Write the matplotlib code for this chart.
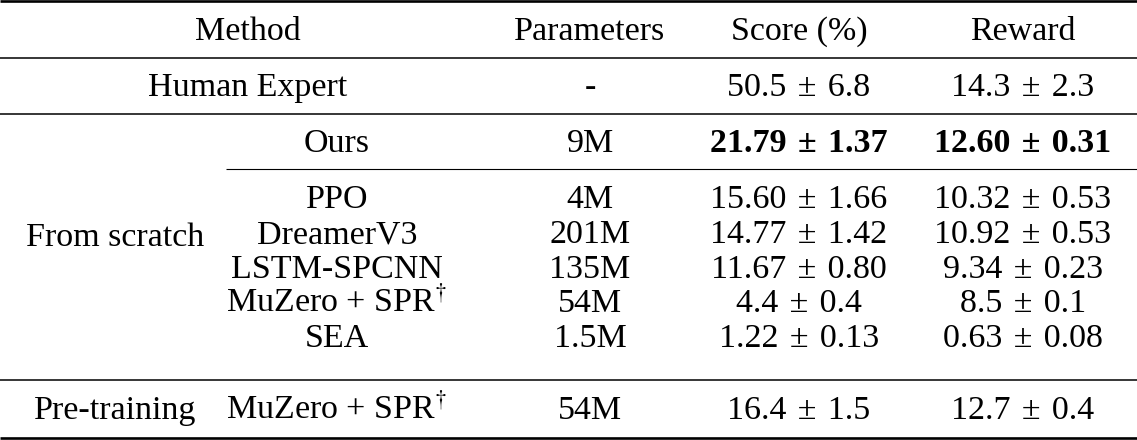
import numpy as np
import matplotlib.pyplot as plt

plt.rcParams['font.family'] = ['Liberation Serif', 'DejaVu Serif']
plt.rcParams['mathtext.fontset'] = 'stix'

## data ##
header = ["Method", "Parameters", "Score (%)", "Reward"]
groups = ["From scratch", "Pre-training"]
methods = ["Human Expert", "Ours", "PPO", "DreamerV3", "LSTM-SPCNN",
           r"MuZero + SPR$^{\dagger}$", "SEA", r"MuZero + SPR$^{\dagger}$"]
params = ["-", "9M", "4M", "201M", "135M", "54M", "1.5M", "54M"]
score_mean = ["50.5", "21.79", "15.60", "14.77", "11.67", "4.4", "1.22", "16.4"]
score_std = ["6.8", "1.37", "1.66", "1.42", "0.80", "0.4", "0.13", "1.5"]
reward_mean = ["14.3", "12.60", "10.32", "10.92", "9.34", "8.5", "0.63", "12.7"]
reward_std = ["2.3", "0.31", "0.53", "0.53", "0.23", "0.1", "0.08", "0.4"]
bold_row = 1

## layout (pixels) ##
W, H = 1137, 440
fs = 24.5
x_method, x_group, x_name = 248, 115, 337
x_cols = [590, 799, 1023]
y_head = 40
y_rows = [96, 152, 208, 243, 278, 312, 347, 419]

fig = plt.figure(figsize=(W/100, H/100), dpi=100)
ax = fig.add_axes([0, 0, 1, 1])
ax.set_xlim(0, W)
ax.set_ylim(H, 0)
ax.axis('off')

# rules
ax.hlines([1.3, 437.6], 0, W, color='black', lw=1.9)
ax.hlines([58.5, 114.5, 380.5], 0, W, color='black', lw=1.1)
ax.hlines(169.5, 226, W, color='black', lw=0.8)

# header
ax.text(x_method, y_head, header[0], ha='center', va='baseline', fontsize=fs)
for x, h in zip(x_cols, header[1:]):
    ax.text(x, y_head, h, ha='center', va='baseline', fontsize=fs)

# group labels
ax.text(x_group, 246, groups[0], ha='center', va='baseline', fontsize=fs)
ax.text(x_group, y_rows[-1], groups[1], ha='center', va='baseline', fontsize=fs)

sep = "\u2004\u00b1\u2004"
for i, y in enumerate(y_rows):
    xm = x_method if i == 0 else x_name
    w = 'bold' if i == bold_row else 'normal'
    ax.text(xm, y, methods[i], ha='center', va='baseline', fontsize=fs)
    ax.text(x_cols[0], y, params[i], ha='center', va='baseline', fontsize=fs)
    ax.text(x_cols[1], y, score_mean[i] + sep + score_std[i],
            ha='center', va='baseline', fontsize=fs, fontweight=w)
    ax.text(x_cols[2], y, reward_mean[i] + sep + reward_std[i],
            ha='center', va='baseline', fontsize=fs, fontweight=w)

fig.savefig("out.png", dpi=100)
